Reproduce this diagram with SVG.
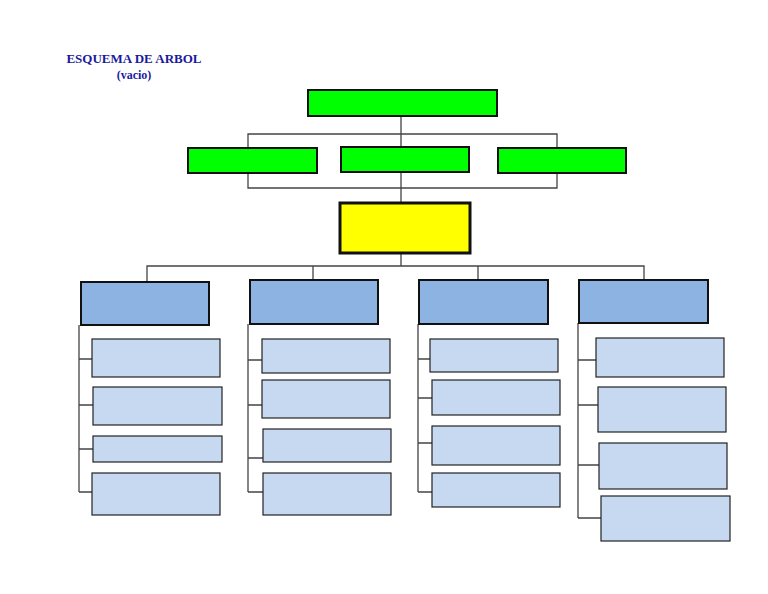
<svg xmlns="http://www.w3.org/2000/svg" width="768" height="594" viewBox="0 0 768 594">
<style>
.t{font-family:"Liberation Serif",serif;font-weight:bold;fill:#1a1a9c;text-anchor:middle}
.g{fill:#00ff00;stroke:#111;stroke-width:2}
.y{fill:#ffff00;stroke:#111;stroke-width:3}
.b{fill:#8db3e2;stroke:#111;stroke-width:2}
.c{fill:#c6d9f1;stroke:#222;stroke-width:1.2}
.l{fill:none;stroke:#444;stroke-width:1.3}
</style>
<rect width="768" height="594" fill="#fff"/>
<text class="t" x="134" y="63" font-size="13">ESQUEMA DE ARBOL</text>
<text class="t" x="134" y="79" font-size="12">(vacio)</text>
<g id="connectors" class="l">
<path d="M401 116V203M248 148V134H557V148M248 173V188H557V173"/>
<path d="M401 253V266M147 282V266H644V280M313 266V280M478 266V280"/>
<path d="M79 325V492M79 359H92M79 405H93M79 449H93M79 492H92"/>
<path d="M248 324V492M248 360H262M248 405H262M248 458H263M248 492H263"/>
<path d="M418 324V492M418 359H430M418 398H432M418 443H432M418 492H432"/>
<path d="M578 323V518M578 360H596M578 405H598M578 465H599M578 518H601"/>
</g>
<g id="root"><rect class="g" x="308" y="90" width="189" height="26"/></g>
<g id="g1"><rect class="g" x="188" y="148" width="129" height="25"/></g>
<g id="g2"><rect class="g" x="341" y="147" width="128" height="25"/></g>
<g id="g3"><rect class="g" x="498" y="148" width="128" height="25"/></g>
<g id="center"><rect class="y" x="340" y="203" width="130" height="50"/></g>
<g id="b1"><rect class="b" x="81" y="282" width="128" height="43"/></g>
<g id="b2"><rect class="b" x="250" y="280" width="128" height="44"/></g>
<g id="b3"><rect class="b" x="419" y="280" width="129" height="44"/></g>
<g id="b4"><rect class="b" x="579" y="280" width="129" height="43"/></g>
<g id="c11"><rect class="c" x="92" y="339" width="128" height="38"/></g>
<g id="c12"><rect class="c" x="93" y="387" width="129" height="38"/></g>
<g id="c13"><rect class="c" x="93" y="436" width="129" height="26"/></g>
<g id="c14"><rect class="c" x="92" y="473" width="128" height="42"/></g>
<g id="c21"><rect class="c" x="262" y="339" width="128" height="34"/></g>
<g id="c22"><rect class="c" x="262" y="380" width="128" height="38"/></g>
<g id="c23"><rect class="c" x="263" y="429" width="128" height="33"/></g>
<g id="c24"><rect class="c" x="263" y="473" width="128" height="42"/></g>
<g id="c31"><rect class="c" x="430" y="339" width="128" height="33"/></g>
<g id="c32"><rect class="c" x="432" y="380" width="128" height="35"/></g>
<g id="c33"><rect class="c" x="432" y="426" width="128" height="39"/></g>
<g id="c34"><rect class="c" x="432" y="473" width="128" height="34"/></g>
<g id="c41"><rect class="c" x="596" y="338" width="128" height="39"/></g>
<g id="c42"><rect class="c" x="598" y="387" width="128" height="45"/></g>
<g id="c43"><rect class="c" x="599" y="443" width="128" height="46"/></g>
<g id="c44"><rect class="c" x="601" y="496" width="129" height="45"/></g>
</svg>
